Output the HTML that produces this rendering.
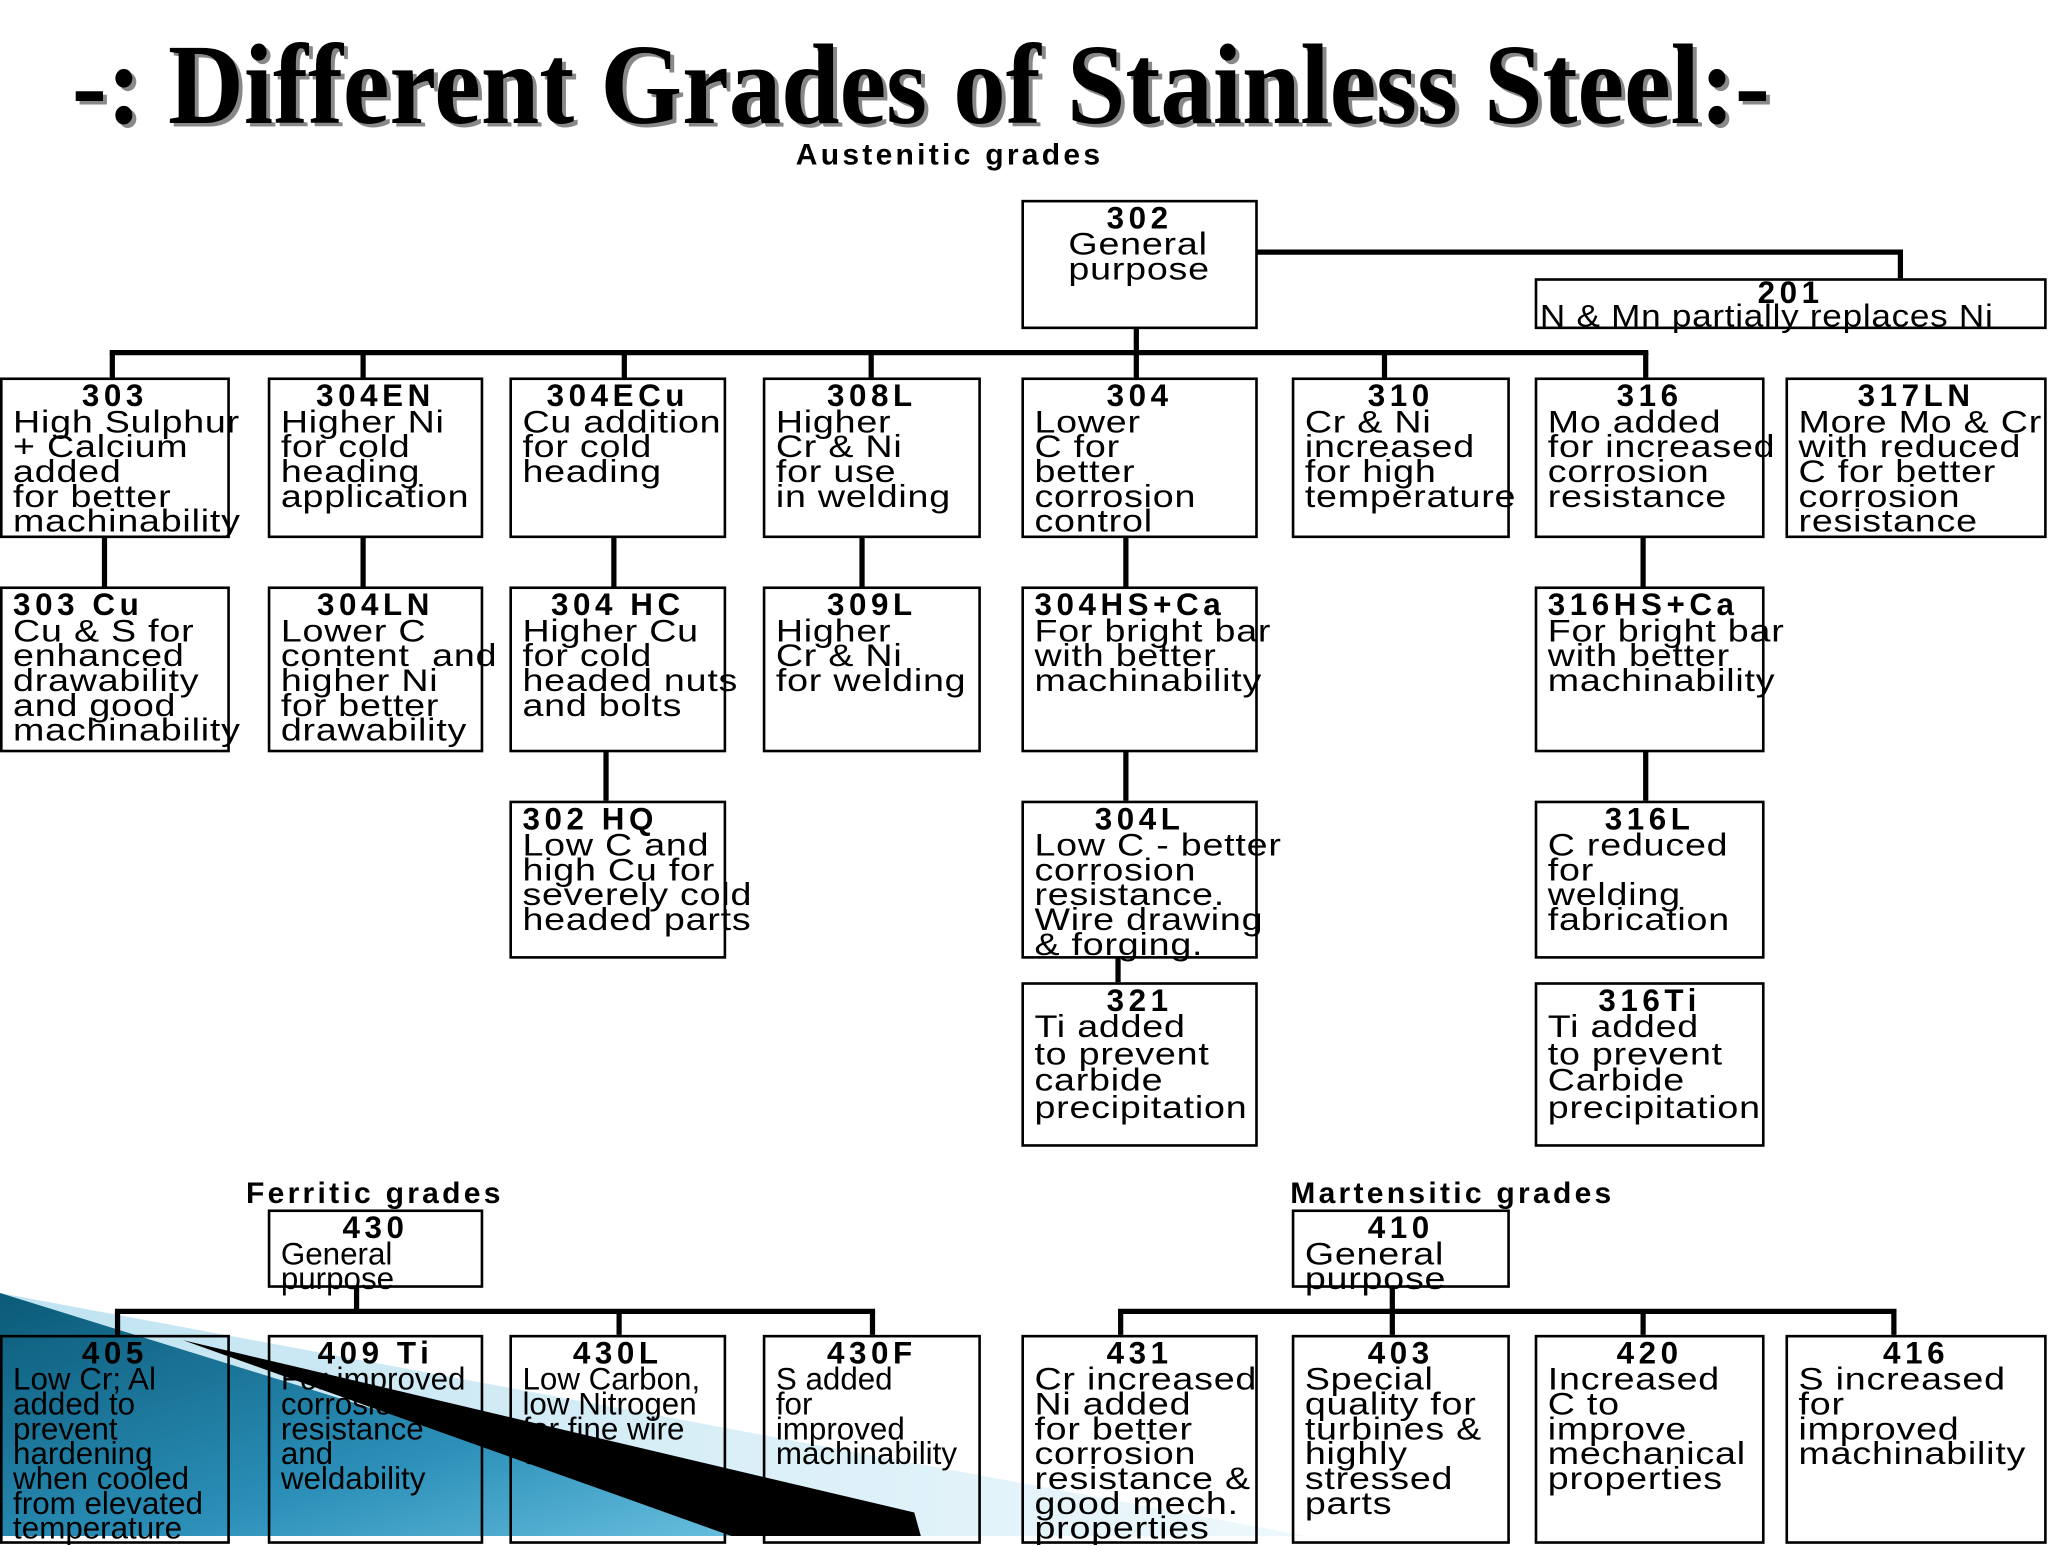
<!DOCTYPE html>
<html><head><meta charset="utf-8"><style>
html,body{margin:0;padding:0;background:#fff;overflow:hidden}
#stage{position:absolute;left:0;top:0;width:1568px;height:1176px;transform:scale(1.30612);transform-origin:0 0;font-family:"Liberation Sans",Arial,sans-serif;color:#000}
.box{position:absolute;border:2px solid #000;box-sizing:border-box}
.h{position:absolute;top:3px;left:0;right:0;text-align:center;font-weight:bold;font-size:24px;line-height:19px;letter-spacing:3.5px;white-space:nowrap}
.hl{text-align:left;left:8px}
.b{position:absolute;left:8px;top:23px;font-size:24px;line-height:19px;letter-spacing:0.5px;transform:scaleX(1.2);transform-origin:0 0;white-space:nowrap}
.n{transform:scaleX(1.0);letter-spacing:0}
.sec{position:absolute;font-weight:bold;font-size:23px;letter-spacing:2.5px;white-space:nowrap;transform:translateX(-50%)}
svg{position:absolute;left:0;top:0}
</style></head><body>
<div id="stage">
<svg width="1568" height="1176">
<defs>
<linearGradient id="bl" x1="0" y1="0" x2="1" y2="1"><stop offset="0" stop-color="#0b5a78"/><stop offset="0.6" stop-color="#2b8fb8"/><stop offset="1" stop-color="#6cc2e0"/></linearGradient>
<linearGradient id="lb" x1="0" y1="0" x2="1" y2="0"><stop offset="0" stop-color="#bfe3f1"/><stop offset="1" stop-color="#eef8fc"/></linearGradient>
</defs>
<polygon points="0,990 1000,1176 0,1176" fill="url(#lb)"/>
<polygon points="0,990 600,1176 0,1176" fill="url(#bl)"/>
<text x="58" y="97" font-family="Liberation Serif,serif" font-weight="bold" font-size="88" textLength="1300" lengthAdjust="spacingAndGlyphs" fill="#888">-: Different Grades of Stainless Steel:-</text>
<text x="55" y="94" font-family="Liberation Serif,serif" font-weight="bold" font-size="88" textLength="1300" lengthAdjust="spacingAndGlyphs" fill="#000">-: Different Grades of Stainless Steel:-</text>
<g stroke="#000" stroke-width="4" fill="none">
<polyline points="962,193 1455,193 1455,213"/>
<line x1="870" y1="251" x2="870" y2="270"/>
<line x1="84" y1="270" x2="1262" y2="270"/>
<line x1="86" y1="270" x2="86" y2="289"/><line x1="278" y1="270" x2="278" y2="289"/><line x1="478" y1="270" x2="478" y2="289"/><line x1="667" y1="270" x2="667" y2="289"/><line x1="870" y1="270" x2="870" y2="289"/><line x1="1060" y1="270" x2="1060" y2="289"/><line x1="1260" y1="270" x2="1260" y2="289"/>
<line x1="80" y1="411" x2="80" y2="449"/><line x1="278" y1="411" x2="278" y2="449"/><line x1="470" y1="411" x2="470" y2="449"/><line x1="660" y1="411" x2="660" y2="449"/><line x1="862" y1="411" x2="862" y2="449"/><line x1="1258" y1="411" x2="1258" y2="449"/>
<line x1="464" y1="575" x2="464" y2="613"/><line x1="862" y1="575" x2="862" y2="613"/><line x1="1260" y1="575" x2="1260" y2="613"/>
<line x1="856" y1="733" x2="856" y2="752"/>
<line x1="273" y1="985" x2="273" y2="1004"/>
<line x1="88" y1="1004" x2="670" y2="1004"/>
<line x1="90" y1="1004" x2="90" y2="1022"/><line x1="474" y1="1004" x2="474" y2="1022"/><line x1="668" y1="1004" x2="668" y2="1022"/>
<line x1="1066" y1="985" x2="1066" y2="1022"/>
<line x1="856" y1="1004" x2="1452" y2="1004"/>
<line x1="858" y1="1004" x2="858" y2="1022"/><line x1="1258" y1="1004" x2="1258" y2="1022"/><line x1="1450" y1="1004" x2="1450" y2="1022"/>
</g>
</svg>

<div class="sec" style="left:727px;top:105px">Austenitic grades</div>
<div class="sec" style="left:287px;top:900px">Ferritic grades</div>
<div class="sec" style="left:1112px;top:900px">Martensitic grades</div>

<div class="box" style="left:782px;top:153px;width:181px;height:99px"><div class="h">302</div><div class="b" style="left:34px">General<br>purpose</div></div>
<div class="box" style="left:1175px;top:213px;width:392px;height:39px"><div class="h" style="top:0">201</div><div class="b" style="left:2px;top:18px;transform:scaleX(1.12)">N &amp; Mn partially replaces Ni</div></div>

<div class="box" style="left:0;top:289px;width:176px;height:123px"><div class="h">303</div><div class="b">High Sulphur<br>+ Calcium<br>added<br>for better<br>machinability</div></div>
<div class="box" style="left:205px;top:289px;width:165px;height:123px"><div class="h">304EN</div><div class="b">Higher Ni<br>for cold<br>heading<br>application</div></div>
<div class="box" style="left:390px;top:289px;width:166px;height:123px"><div class="h">304ECu</div><div class="b">Cu addition<br>for cold<br>heading</div></div>
<div class="box" style="left:584px;top:289px;width:167px;height:123px"><div class="h">308L</div><div class="b">Higher<br>Cr &amp; Ni<br>for use<br>in welding</div></div>
<div class="box" style="left:782px;top:289px;width:181px;height:123px"><div class="h">304</div><div class="b">Lower<br>C for<br>better<br>corrosion<br>control</div></div>
<div class="box" style="left:989px;top:289px;width:167px;height:123px"><div class="h">310</div><div class="b">Cr &amp; Ni<br>increased<br>for high<br>temperature</div></div>
<div class="box" style="left:1175px;top:289px;width:176px;height:123px"><div class="h">316</div><div class="b">Mo added<br>for increased<br>corrosion<br>resistance</div></div>
<div class="box" style="left:1367px;top:289px;width:200px;height:123px;overflow:hidden"><div class="h">317LN</div><div class="b">More Mo &amp; Cr<br>with reduced<br>C for better<br>corrosion<br>resistance</div></div>

<div class="box" style="left:0;top:449px;width:176px;height:127px"><div class="h hl">303 Cu</div><div class="b">Cu &amp; S for<br>enhanced<br>drawability<br>and good<br>machinability</div></div>
<div class="box" style="left:205px;top:449px;width:165px;height:127px"><div class="h">304LN</div><div class="b">Lower C<br>content&nbsp; and<br>higher Ni<br>for better<br>drawability</div></div>
<div class="box" style="left:390px;top:449px;width:166px;height:127px"><div class="h">304 HC</div><div class="b">Higher Cu<br>for cold<br>headed nuts<br>and bolts</div></div>
<div class="box" style="left:584px;top:449px;width:167px;height:127px"><div class="h">309L</div><div class="b">Higher<br>Cr &amp; Ni<br>for welding</div></div>
<div class="box" style="left:782px;top:449px;width:181px;height:127px"><div class="h hl">304HS+Ca</div><div class="b">For bright bar<br>with better<br>machinability</div></div>
<div class="box" style="left:1175px;top:449px;width:176px;height:127px"><div class="h hl">316HS+Ca</div><div class="b">For bright bar<br>with better<br>machinability</div></div>

<div class="box" style="left:390px;top:613px;width:166px;height:121px"><div class="h hl">302 HQ</div><div class="b">Low C and<br>high Cu for<br>severely cold<br>headed parts</div></div>
<div class="box" style="left:782px;top:613px;width:181px;height:121px"><div class="h">304L</div><div class="b">Low C - better<br>corrosion<br>resistance.<br>Wire drawing<br>&amp; forging.</div></div>
<div class="box" style="left:1175px;top:613px;width:176px;height:121px"><div class="h">316L</div><div class="b">C reduced<br>for<br>welding<br>fabrication</div></div>

<div class="box" style="left:782px;top:752px;width:181px;height:126px"><div class="h">321</div><div class="b" style="line-height:20.5px">Ti added<br>to prevent<br>carbide<br>precipitation</div></div>
<div class="box" style="left:1175px;top:752px;width:176px;height:126px"><div class="h">316Ti</div><div class="b" style="line-height:20.5px">Ti added<br>to prevent<br>Carbide<br>precipitation</div></div>

<div class="box" style="left:205px;top:926px;width:165px;height:60px"><div class="h">430</div><div class="b n">General<br>purpose</div></div>
<div class="box" style="left:989px;top:926px;width:167px;height:60px"><div class="h">410</div><div class="b">General<br>purpose</div></div>

<div class="box" style="left:0;top:1022px;width:176px;height:160px"><div class="h">405</div><div class="b n">Low Cr; Al<br>added to<br>prevent<br>hardening<br>when cooled<br>from elevated<br>temperature</div></div>
<div class="box" style="left:205px;top:1022px;width:165px;height:160px"><div class="h">409 Ti</div><div class="b n">For improved<br>corrosion<br>resistance<br>and<br>weldability</div></div>
<div class="box" style="left:390px;top:1022px;width:166px;height:160px"><div class="h">430L</div><div class="b n">Low Carbon,<br>low Nitrogen<br>for fine wire<br>drawing</div></div>
<div class="box" style="left:584px;top:1022px;width:167px;height:160px"><div class="h">430F</div><div class="b n">S added<br>for<br>improved<br>machinability</div></div>
<div class="box" style="left:782px;top:1022px;width:181px;height:160px"><div class="h">431</div><div class="b">Cr increased<br>Ni added<br>for better<br>corrosion<br>resistance &amp;<br>good mech.<br>properties</div></div>
<div class="box" style="left:989px;top:1022px;width:167px;height:160px"><div class="h">403</div><div class="b">Special<br>quality for<br>turbines &amp;<br>highly<br>stressed<br>parts</div></div>
<div class="box" style="left:1175px;top:1022px;width:176px;height:160px"><div class="h">420</div><div class="b">Increased<br>C to<br>improve<br>mechanical<br>properties</div></div>
<div class="box" style="left:1367px;top:1022px;width:200px;height:160px"><div class="h">416</div><div class="b">S increased<br>for<br>improved<br>machinability</div></div>

<svg width="1568" height="1176" style="pointer-events:none">
<polygon points="140,1026 700,1158 705,1176 560,1176" fill="#000"/>
</svg>
</div>
</body></html>
